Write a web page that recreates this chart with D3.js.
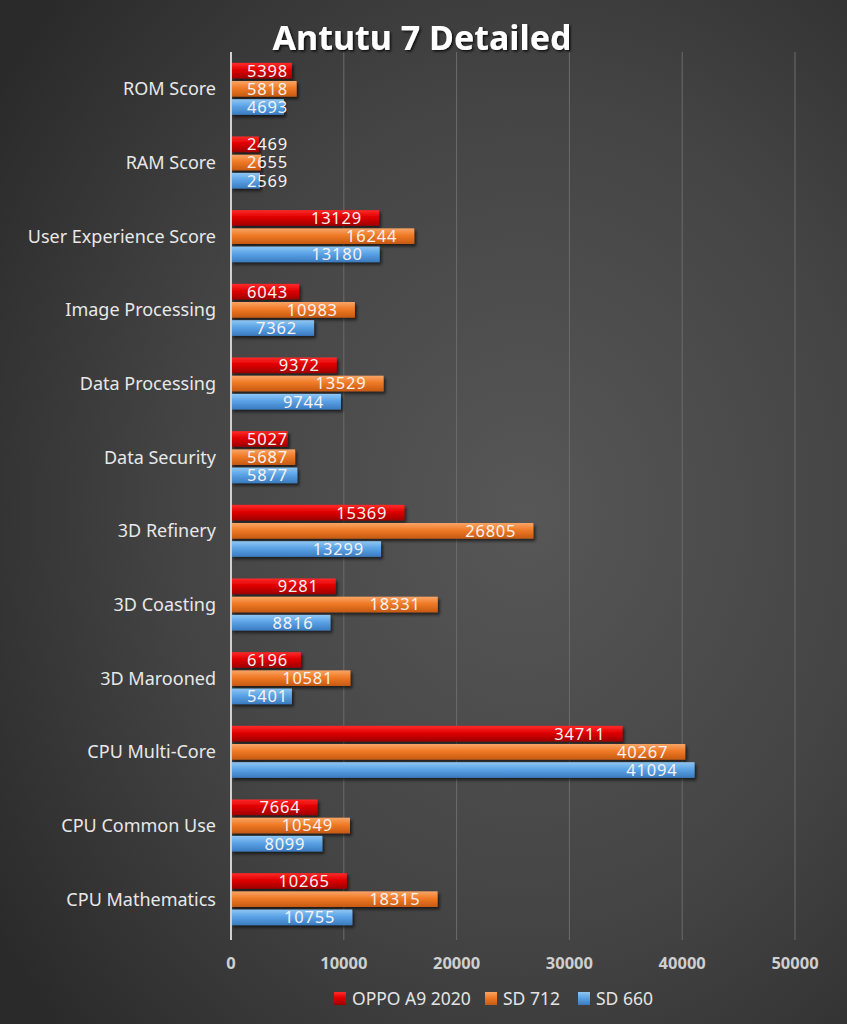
<!DOCTYPE html>
<html>
<head>
<meta charset="utf-8">
<script src="https://cdn.jsdelivr.net/npm/d3@7"></script>
<style>
    body { margin: 0; background: #2e2e2e; }
    #chart svg { display: block; }
</style>
</head>
<body>
<div id="chart"></div>
<script>
// Chart data
var categories = ["ROM Score", "RAM Score", "User Experience Score", "Image Processing", "Data Processing",
    "Data Security", "3D Refinery", "3D Coasting", "3D Marooned", "CPU Multi-Core", "CPU Common Use", "CPU Mathematics"];
var seriesNames = ["OPPO A9 2020", "SD 712", "SD 660"];
var oppoA9 = [5398, 2469, 13129, 6043, 9372, 5027, 15369, 9281, 6196, 34711, 7664, 10265];
var sd712 = [5818, 2655, 16244, 10983, 13529, 5687, 26805, 18331, 10581, 40267, 10549, 18315];
var sd660 = [4693, 2569, 13180, 7362, 9744, 5877, 13299, 8816, 5401, 41094, 8099, 10755];
var xTicks = [0, 10000, 20000, 30000, 40000, 50000];

function create_antutu_chart(width, height) {
    var margin = { top: 52, right: 52, bottom: 88, left: 231 };
    const innerWidth = width - margin.left - margin.right;
    const innerHeight = height - margin.top - margin.bottom;

    var svg = d3.select("#chart").append("svg")
        .attr("width", width)
        .attr("height", height);

    var defs = svg.append("defs");

    // Background radial gradient
    var bg = defs.append("radialGradient").attr("id", "bg")
        .attr("cx", "62%").attr("cy", "50%").attr("r", "75%");
    bg.append("stop").attr("offset", "0%").attr("stop-color", "#575757");
    bg.append("stop").attr("offset", "55%").attr("stop-color", "#444444");
    bg.append("stop").attr("offset", "100%").attr("stop-color", "#2a2a2a");

    // Bar gradients, one per series
    var barColors = [
        ["#ff2a2a", "#e00000", "#9e0000"],
        ["#f9a566", "#f07a26", "#c65a12"],
        ["#8fc6f3", "#5ba3e6", "#3b7bc0"]
    ];
    barColors.forEach(function (c, i) {
        var g = defs.append("linearGradient").attr("id", "bar" + i)
            .attr("x1", 0).attr("y1", 0).attr("x2", 0).attr("y2", 1);
        g.append("stop").attr("offset", "0%").attr("stop-color", c[0]);
        g.append("stop").attr("offset", "45%").attr("stop-color", c[1]);
        g.append("stop").attr("offset", "100%").attr("stop-color", c[2]);
    });

    var shadow = defs.append("filter").attr("id", "shadow")
        .attr("x", "-5%").attr("y", "-30%").attr("width", "115%").attr("height", "180%");
    shadow.append("feDropShadow").attr("dx", 2).attr("dy", 2.5)
        .attr("stdDeviation", 1.5).attr("flood-color", "#000").attr("flood-opacity", 0.6);

    var textShadow = defs.append("filter").attr("id", "tshadow");
    textShadow.append("feDropShadow").attr("dx", 1.5).attr("dy", 1.5)
        .attr("stdDeviation", 1).attr("flood-color", "#000").attr("flood-opacity", 0.8);

    svg.append("rect")
        .attr("width", width)
        .attr("height", height)
        .attr("fill", "url(#bg)");

    var g = svg.append("g")
        .attr("transform", "translate(" + margin.left + "," + margin.top + ")");

    // Scales
    var x = d3.scaleLinear().domain([0, 50000]).range([0, innerWidth]);
    var y = d3.scaleBand().domain(categories).range([0, innerHeight])
        .paddingInner(0.225).paddingOuter(0.1125);
    var ySub = d3.scaleBand().domain([0, 1, 2]).range([0, y.bandwidth()]).padding(0.14);

    // Gridlines
    g.selectAll(".grid")
        .data(xTicks.slice(1))
        .enter().append("line")
        .attr("class", "grid")
        .attr("x1", d => x(d)).attr("x2", d => x(d))
        .attr("y1", 0).attr("y2", innerHeight + 4)
        .attr("stroke", "#6c6c6c")
        .attr("stroke-width", 1);

    // Build table for bars
    var seriesValues = [oppoA9, sd712, sd660];
    var rows = [];
    categories.forEach(function (c, ci) {
        seriesValues.forEach(function (vals, si) {
            rows.push({ cat: c, s: si, value: vals[ci] });
        });
    });

    var bars = g.selectAll(".bar")
        .data(rows)
        .enter().append("g")
        .attr("class", "bar")
        .attr("transform", d => "translate(0," + (y(d.cat) + ySub(d.s)) + ")");

    bars.append("rect")
        .attr("x", x(0))
        .attr("y", 0)
        .attr("width", d => x(d.value) - x(0))
        .attr("height", ySub.bandwidth())
        .attr("fill", d => "url(#bar" + d.s + ")")
        .attr("filter", "url(#shadow)");

    // Value labels, inside end, but never starting before the axis offset
    bars.append("text")
        .attr("y", ySub.bandwidth() / 2)
        .attr("dy", "0.36em")
        .attr("text-anchor", "end")
        .style("font-family", "'Noto Sans', sans-serif")
        .style("font-size", "16.5px")
        .style("fill", "#f6f2f2")
        .style("letter-spacing", "0.8px")
        .text(d => d.value)
        .attr("x", function (d) {
            var w = this.getComputedTextLength();
            return Math.max(x(d.value) - 17, x(0) + 16 + w);
        });

    // Axis line at zero
    g.append("line")
        .attr("x1", x(0)).attr("x2", x(0))
        .attr("y1", 0).attr("y2", innerHeight + 4)
        .attr("stroke", "#d0d0d0")
        .attr("stroke-width", 2);

    // Category labels
    g.selectAll(".cat")
        .data(categories)
        .enter().append("text")
        .attr("class", "cat")
        .attr("x", -15)
        .attr("y", d => y(d) + y.bandwidth() / 2)
        .attr("dy", "0.36em")
        .attr("text-anchor", "end")
        .style("font-family", "'Noto Sans', sans-serif")
        .style("font-size", "18px")
        .style("fill", "#e8e8e8")
        .text(d => d);

    // X tick labels
    g.selectAll(".tick-label")
        .data(xTicks)
        .enter().append("text")
        .attr("class", "tick-label")
        .attr("x", d => x(d))
        .attr("y", innerHeight + 33)
        .attr("text-anchor", "middle")
        .style("font-family", "'Noto Sans', sans-serif")
        .style("font-size", "16.5px")
        .style("font-weight", "bold")
        .style("fill", "#cfcfcf")
        .text(d => d);

    // Title
    svg.append("text")
        .attr("x", 422)
        .attr("y", 50)
        .attr("text-anchor", "middle")
        .attr("filter", "url(#tshadow)")
        .style("font-family", "'Noto Sans', sans-serif")
        .style("font-size", "34px")
        .style("font-weight", "bold")
        .style("fill", "#ffffff")
        .text("Antutu 7 Detailed");

    // Legend
    var legendX = [334, 485, 578];
    var legend = svg.selectAll(".legend")
        .data(seriesNames)
        .enter().append("g")
        .attr("class", "legend")
        .attr("transform", (d, i) => "translate(" + legendX[i] + "," + 999 + ")");

    legend.append("rect")
        .attr("x", 0)
        .attr("y", -7)
        .attr("width", 12)
        .attr("height", 13)
        .attr("fill", (d, i) => "url(#bar" + i + ")");

    legend.append("text")
        .attr("x", 18)
        .attr("y", 0)
        .attr("dy", "0.36em")
        .style("font-family", "'Noto Sans', sans-serif")
        .style("font-size", "17.5px")
        .style("fill", "#e4e4e4")
        .text(d => d);
}

create_antutu_chart(847, 1024);
</script>
</body>
</html>
